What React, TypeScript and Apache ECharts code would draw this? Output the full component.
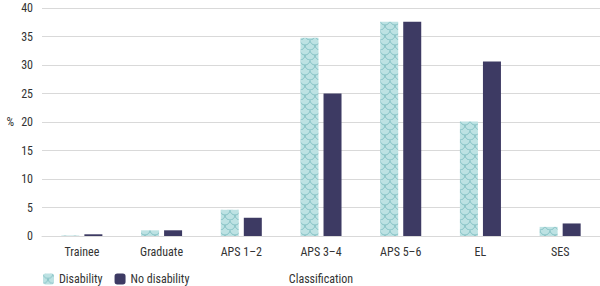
import React, { useEffect, useRef } from "react";
import * as echarts from "echarts";

const categories = ["Trainee", "Graduate", "APS 1–2", "APS 3–4", "APS 5–6", "EL", "SES"];
const disability = [0.1, 1.0, 4.6, 34.8, 37.6, 20.1, 1.6];
const noDisability = [0.3, 1.0, 3.2, 25.0, 37.6, 30.6, 2.2];
const yTicks = { min: 0, max: 40, interval: 5 };

const FONT = "'Roboto Condensed', 'Roboto', sans-serif";
const FS = 12;

function makePattern(): HTMLCanvasElement {
  const c = document.createElement("canvas");
  c.width = 10;
  c.height = 10;
  const ctx = c.getContext("2d")!;
  ctx.fillStyle = "#bde2e3";
  ctx.fillRect(0, 0, 10, 10);
  ctx.strokeStyle = "#86c2c5";
  ctx.lineWidth = 1;
  const arc = (cx: number, cy: number) => {
    ctx.beginPath();
    ctx.arc(cx, cy, 5, 0, Math.PI);
    ctx.stroke();
  };
  arc(5, 0);
  arc(0, 5);
  arc(10, 5);
  arc(5, 10);
  return c;
}

export default function App() {
  const ref = useRef<HTMLDivElement>(null);
  useEffect(() => {
    if (!ref.current) return;
    const chart = echarts.init(ref.current, null, { renderer: "svg" });
    const pattern = makePattern();
    chart.setOption({
      animation: false,
      textStyle: { fontFamily: FONT },
      grid: { left: 42, right: 0, top: 8, bottom: 50, outerBoundsMode: "none" } as any,
      legend: {
        left: 43,
        top: 273,
        padding: 0,
        itemWidth: 11,
        itemHeight: 11,
        itemGap: 12,
        textStyle: { fontFamily: FONT, fontSize: FS, color: "#333" },
        data: ["Disability", "No disability"],
      },
      xAxis: {
        type: "category",
        data: categories,
        name: "Classification",
        nameLocation: "middle",
        nameGap: 37,
        nameTextStyle: { fontFamily: FONT, fontSize: FS, color: "#333" },
        axisLine: { lineStyle: { color: "#d9d9d9" } },
        axisTick: { show: false },
        axisLabel: { fontFamily: FONT, fontSize: FS, color: "#333", margin: 10 },
      },
      yAxis: {
        type: "value",
        min: yTicks.min,
        max: yTicks.max,
        interval: yTicks.interval,
        name: "%",
        nameLocation: "middle",
        nameRotate: 0,
        nameGap: 28,
        nameTextStyle: { fontFamily: FONT, fontSize: FS, color: "#333" },
        axisLine: { show: false },
        axisTick: { show: false },
        axisLabel: { fontFamily: FONT, fontSize: FS, color: "#333", margin: 9 },
        splitLine: { lineStyle: { color: "#d9d9d9" } },
      },
      series: [
        {
          name: "Disability",
          type: "bar",
          data: disability,
          barWidth: 18,
          barGap: "28%",
          itemStyle: { color: { image: pattern, repeat: "repeat" } as any },
        },
        {
          name: "No disability",
          type: "bar",
          data: noDisability,
          barWidth: 18,
          itemStyle: { color: "#3d3a63" },
        },
      ],
    });
    return () => chart.dispose();
  }, []);
  return (
    <div
      ref={ref}
      style={{ width: 600, height: 286, position: "absolute", left: 0, top: 0 }}
    />
  );
}
